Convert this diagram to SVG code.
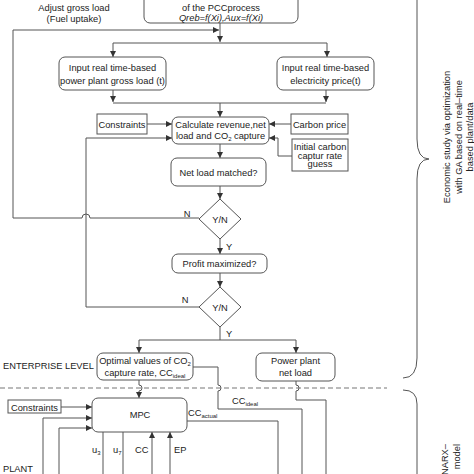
<svg xmlns="http://www.w3.org/2000/svg" width="474" height="474" viewBox="0 0 474 474">
<defs>
<marker id="arr" markerWidth="6" markerHeight="6" refX="6" refY="3" orient="auto" markerUnits="userSpaceOnUse">
<path d="M0,0 L6,3 L0,6 z" fill="#333"/>
</marker>
<style>
.b{fill:#fff;stroke:#555;stroke-width:1}
.t{font-family:"Liberation Sans",Arial,sans-serif;font-size:9.3px;fill:#222;text-anchor:middle}
.l{font-family:"Liberation Sans",Arial,sans-serif;font-size:9.3px;fill:#222}
.c{fill:none;stroke:#555;stroke-width:1}
.a{fill:none;stroke:#555;stroke-width:1;marker-end:url(#arr)}
.s{font-size:6px}
</style>
</defs>
<rect width="474" height="474" fill="#fff"/>

<g id="connectors">
<path class="a" d="M220,23 V42"/>
<path class="a" d="M199,218 H90 A4,4 0 0 0 82,218 H13 V30 H219"/>
<path class="c" d="M113,43 H327"/>
<path class="a" d="M113,43 V57"/>
<path class="a" d="M327,43 V57"/>
<path class="a" d="M113,90 V102"/>
<path class="a" d="M326,90 V102"/>
<path class="c" d="M113,103 H326"/>
<path class="a" d="M220,103 V117"/>
<path class="a" d="M147,124 H172"/>
<path class="a" d="M291,124 H269"/>
<path class="a" d="M292,156 H278 V138 H269"/>
<path class="a" d="M199,307 H86 V138 H172"/>
<path class="a" d="M220,144 V158"/>
<path class="a" d="M220,186 V199"/>
<path class="a" d="M220,239 V254"/>
<path class="a" d="M220,273 V287"/>
<path class="c" d="M220,327 V340"/>
<path class="c" d="M139,340 H296"/>
<path class="a" d="M139,340 V353"/>
<path class="a" d="M296,340 V353"/>
<path class="a" d="M139,380 V385 A3,3 0 0 1 139,391 V398"/>
<path class="c" d="M193,367 H218 V385 A3,3 0 0 1 218,391 V409 H302 V474"/>
<path class="c" d="M296,381 V385 A3,3 0 0 1 296,391 V400 H326 V474"/>
<path class="c" d="M187,421 H278 V474"/>
<path class="a" d="M61,407 H92"/>
<path class="a" d="M43,474 V418 H92"/>
<path class="a" d="M59,474 V428 H92"/>
<path class="c" d="M103,432 V474"/>
<path class="c" d="M123,432 V474"/>
<path class="a" d="M152,474 V432"/>
<path class="a" d="M170,474 V432"/>
</g>

<path d="M0,388 H387" fill="none" stroke="#777" stroke-width="1.2" stroke-dasharray="5,3"/>

<g id="top-box">
<rect class="b" x="144" y="-20" width="154" height="43" rx="6"/>
<text class="t" x="221" y="10.5">of the PCCprocess</text>
<text class="t" x="221" y="21" font-style="italic">Qreb=f(Xi),Aux=f(Xi)</text>
</g>
<g id="adjust-label">
<text class="t" x="74" y="10.5">Adjust gross load</text>
<text class="t" x="74" y="21.5">(Fuel uptake)</text>
</g>
<g id="input-gross">
<rect class="b" x="59" y="57" width="107" height="33" rx="6"/>
<text class="t" x="112.5" y="70.5">Input real time-based</text>
<text class="t" x="112.5" y="83.5">power plant gross load (t)</text>
</g>
<g id="input-price">
<rect class="b" x="277" y="57" width="97" height="33" rx="6"/>
<text class="t" x="325.5" y="70.5">Input real time-based</text>
<text class="t" x="325.5" y="83.5">electricity price(t)</text>
</g>
<g id="constraints-top">
<rect class="b" x="97" y="114" width="50" height="20"/>
<text class="t" x="122" y="127.5">Constraints</text>
</g>
<g id="calculate">
<rect class="b" x="172" y="117" width="97" height="27" rx="6"/>
<text class="t" x="220.5" y="127.5">Calculate revenue,net</text>
<text class="t" x="220.5" y="138.5">load and CO<tspan class="s" dy="2">2</tspan><tspan dy="-2"> capture</tspan></text>
</g>
<g id="carbon-price">
<rect class="b" x="291" y="114" width="57" height="20"/>
<text class="t" x="319.5" y="127.5">Carbon price</text>
</g>
<g id="initial-guess">
<rect class="b" x="292" y="139" width="56" height="32"/>
<text class="t" x="320" y="150" font-size="8.8">Initial carbon</text>
<text class="t" x="320" y="158.5" font-size="8.8">captur rate</text>
<text class="t" x="320" y="167" font-size="8.8">guess</text>
</g>
<g id="net-load-matched">
<rect class="b" x="171" y="158" width="95" height="28" rx="6"/>
<text class="t" x="218.5" y="175.5">Net load matched?</text>
</g>
<g id="decision-1">
<polygon class="b" points="220,199 241,219 220,239 199,219"/>
<text class="t" x="220" y="222.5">Y/N</text>
<text class="t" x="187" y="216.5">N</text>
<text class="t" x="229" y="249.5">Y</text>
</g>
<g id="profit">
<rect class="b" x="172" y="254" width="95" height="19" rx="6"/>
<text class="t" x="219.5" y="267">Profit maximized?</text>
</g>
<g id="decision-2">
<polygon class="b" points="220,287 241,307 220,327 199,307"/>
<text class="t" x="220" y="310.5">Y/N</text>
<text class="t" x="185" y="302.5">N</text>
<text class="t" x="229" y="337">Y</text>
</g>
<g id="optimal">
<rect class="b" x="97" y="353" width="96" height="27" rx="6"/>
<text class="t" x="145" y="363.5">Optimal values of CO<tspan class="s" dy="2">2</tspan></text>
<text class="t" x="145" y="375.5">capture rate, CC<tspan class="s" dy="2">ideal</tspan></text>
</g>
<g id="net-load">
<rect class="b" x="256" y="353" width="79" height="28" rx="6"/>
<text class="t" x="295.5" y="364">Power plant</text>
<text class="t" x="295.5" y="376">net load</text>
</g>
<g id="enterprise-label">
<text class="l" x="3" y="368.5">ENTERPRISE LEVEL</text>
</g>
<g id="constraints-bottom">
<rect class="b" x="8" y="400" width="53" height="13"/>
<text class="t" x="34.5" y="410.5">Constraints</text>
</g>
<g id="mpc">
<rect class="b" x="92" y="398" width="95" height="34" rx="6"/>
<text class="t" x="140" y="417.5">MPC</text>
</g>
<g id="signal-labels">
<text class="l" x="188" y="416">CC<tspan class="s" dy="2">actual</tspan></text>
<text class="l" x="232" y="404">CC<tspan class="s" dy="2">ideal</tspan></text>
<text class="l" x="92" y="452.5">u<tspan class="s" dy="2">3</tspan></text>
<text class="l" x="113" y="452.5">u<tspan class="s" dy="2">7</tspan></text>
<text class="l" x="135" y="452.5">CC</text>
<text class="l" x="174" y="452.5">EP</text>
<text class="l" x="3" y="472">PLANT</text>
</g>
<g id="brace-enterprise">
<path class="c" d="M403,-60 Q417,-60 417,-40 V139 Q417,159 429,159 Q417,159 417,179 V358 Q417,378 403,378"/>
<text class="t" font-size="10" transform="translate(450,137) rotate(-90)">Economic study via optimization</text>
<text class="t" font-size="10" transform="translate(462,137) rotate(-90)">with GA based on real–time</text>
<text class="t" font-size="10" transform="translate(473,137) rotate(-90)">based plant/data</text>
</g>
<g id="brace-plant">
<path class="c" d="M403,390 Q417,390 417,404 V480"/>
<text class="l" font-size="9.5" text-anchor="end" transform="translate(448,444) rotate(-90)">NARX–</text>
<text class="l" font-size="9.5" text-anchor="end" transform="translate(460,444) rotate(-90)">model</text>
</g>
</svg>
